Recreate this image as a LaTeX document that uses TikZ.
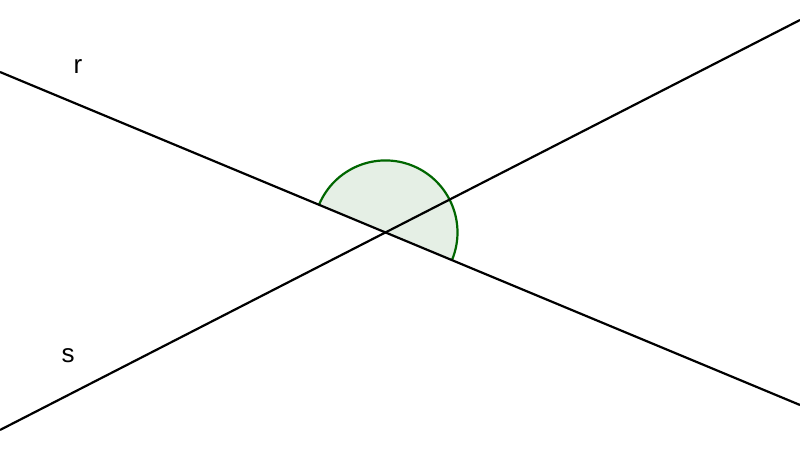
\documentclass[tikz,border=0pt]{standalone}
\usepackage{fontspec}
\setmainfont{Liberation Sans}
\definecolor{arcgreen}{RGB}{0,102,0}
\definecolor{arcfill}{RGB}{229,239,229}
\tikzset{
  lineblk/.style={draw=black, line width=2.2pt},
  anglearc/.style={draw=arcgreen, line width=2.2pt},
  anglefill/.style={fill=arcfill, draw=none},
  lbl/.style={font=\fontsize{26}{30}\selectfont, inner sep=0pt}
}
\begin{document}
\begin{tikzpicture}[x=1pt,y=1pt]
\useasboundingbox (0,0) rectangle (800,466);
\coordinate (r1) at (0,394);
\coordinate (r2) at (800,61);
\coordinate (s1) at (0,36);
\coordinate (s2) at (800,446);
\coordinate (C) at (intersection of r1--r2 and s1--s2);
\fill[anglefill] (C) -- ++(157.4:72) arc[start angle=157.4, end angle=-22.6, radius=72] -- cycle;
\draw[anglearc] (C) ++(157.4:72) arc[start angle=157.4, end angle=-22.6, radius=72];
\draw[lineblk] (r1) -- (r2);
\draw[lineblk] (s1) -- (s2);
\node[lbl] (rlab) at (78,399) {r};
\node[lbl] (slab) at (68,110) {s};
\end{tikzpicture}
\end{document}
